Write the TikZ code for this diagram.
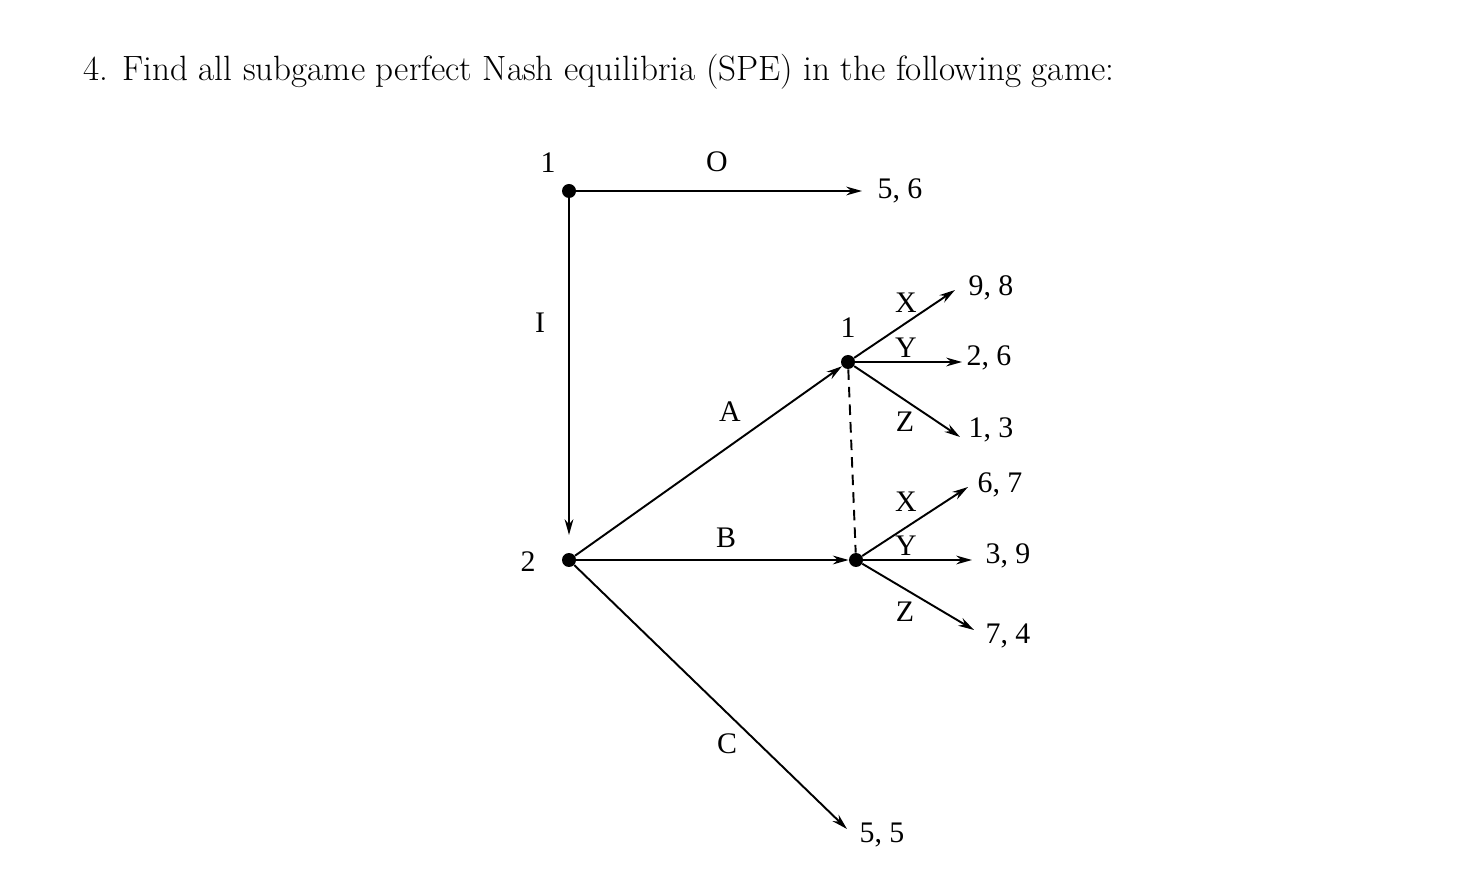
\documentclass[tikz,border=0pt]{standalone}
\usepackage{fontspec}
\newfontfamily\tms{Liberation Serif}
\usetikzlibrary{arrows.meta}
\begin{document}
\begin{tikzpicture}[x=0.02cm,y=-0.02cm,
  dot/.style={circle,fill=black,inner sep=0pt,minimum size=0.28cm},
  lbl/.style={font=\tms\fontsize{17}{20}\selectfont,inner sep=0pt},
  mv/.style={line width=1.1pt,-{Stealth[length=9pt,width=5pt]}}]
\useasboundingbox (0,0) rectangle (1461,891);
\node[anchor=west,font=\fontsize{20}{24}\selectfont,inner sep=0pt] (t) at (83,72) {4. Find all subgame perfect Nash equilibria (SPE) in the following game:};
\node[dot] (r) at (569,191) {};
\node[dot] (n2) at (569,560) {};
\node[dot] (u) at (848,362) {};
\node[dot] (l) at (856,560) {};
\coordinate (eO) at (862,191);
\coordinate (eC) at (847,829);
\coordinate (ux) at (955,290);
\coordinate (uy) at (962,362);
\coordinate (uz) at (960,437);
\coordinate (lx) at (968,487);
\coordinate (ly) at (972,560);
\coordinate (lz) at (974,630);
\coordinate (eI) at (569,535);
\draw[mv] (r) -- (eO);
\draw[mv] (r) -- (eI);
\draw[mv] (n2) -- (u);
\draw[mv] (n2) -- (l);
\draw[mv] (n2) -- (eC);
\draw[mv] (u) -- (ux);
\draw[mv] (u) -- (uy);
\draw[mv] (u) -- (uz);
\draw[mv] (l) -- (lx);
\draw[mv] (l) -- (ly);
\draw[mv] (l) -- (lz);
\draw[line width=1.1pt,dashed,dash pattern=on 6pt off 4pt] (u) -- (l);
\node[lbl] (a1) at (548,163) {1};
\node[lbl] (aO) at (717,162) {O};
\node[lbl] (p1) at (900,191) {5, 6};
\node[lbl] (aI) at (540,323) {I};
\node[lbl] (a2) at (528,562) {2};
\node[lbl] (a3) at (848,328) {1};
\node[lbl] (aA) at (730,412) {A};
\node[lbl] (aB) at (726,538) {B};
\node[lbl] (aC) at (727,744) {C};
\node[lbl] (p2) at (882,835) {5, 5};
\node[lbl] (x1) at (906,303) {X};
\node[lbl] (y1) at (906,348) {Y};
\node[lbl] (z1) at (905,422) {Z};
\node[lbl] (p3) at (991,288) {9, 8};
\node[lbl] (p4) at (989,358) {2, 6};
\node[lbl] (p5) at (991,430) {1, 3};
\node[lbl] (x2) at (906,502) {X};
\node[lbl] (y2) at (906,546) {Y};
\node[lbl] (z2) at (905,612) {Z};
\node[lbl] (p6) at (1000,485) {6, 7};
\node[lbl] (p7) at (1008,556) {3, 9};
\node[lbl] (p8) at (1008,636) {7, 4};
\end{tikzpicture}
\end{document}
